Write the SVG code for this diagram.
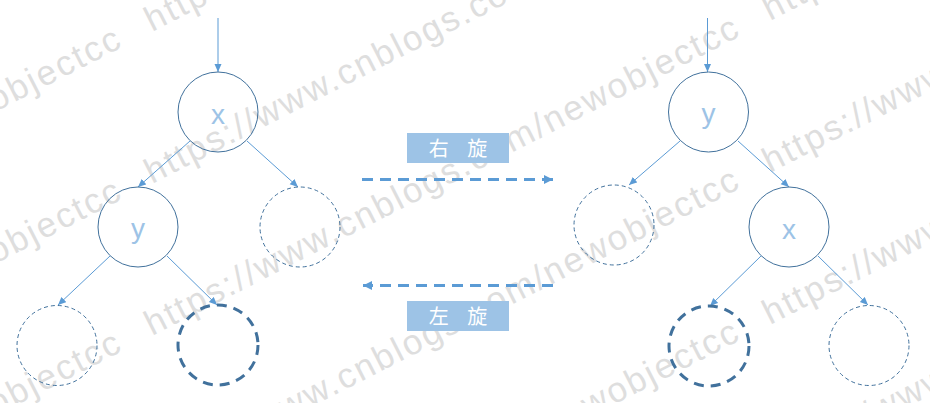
<svg xmlns="http://www.w3.org/2000/svg" width="930" height="403" viewBox="0 0 930 403">
<style>
.wm{font-family:"Liberation Sans",Arial,sans-serif;font-size:35px;fill:#dedede}
.n{fill:none;stroke:#41719C;stroke-width:1}
.d{fill:none;stroke:#41719C;stroke-width:1;stroke-dasharray:4 3}
.t{fill:none;stroke:#41719C;stroke-width:3;stroke-dasharray:10 7}
.lbl{font-family:"Liberation Sans",Arial,sans-serif;font-size:28px;fill:#9DC3E6;text-anchor:middle}
.e{stroke:#5B9BD5;stroke-width:1;fill:none;marker-end:url(#ah)}
.r{stroke:#5B9BD5;stroke-width:3;fill:none;stroke-dasharray:11 7;marker-end:url(#ah2)}
.box{fill:#9DC3E6}
.bt{font-family:"Noto Sans CJK SC","Noto Sans",sans-serif;font-size:20px;fill:#ffffff;text-anchor:middle;word-spacing:14px}
</style>
<defs>
<marker id="ah" markerUnits="userSpaceOnUse" markerWidth="9" markerHeight="8" refX="8" refY="3.5" orient="auto">
<path d="M0,0 L8,3.5 L0,7 z" fill="#5B9BD5"/>
</marker>
<marker id="ah2" markerUnits="userSpaceOnUse" markerWidth="10" markerHeight="10" refX="9" refY="4.5" orient="auto">
<path d="M0,0 L9,4.5 L0,9 z" fill="#5B9BD5"/>
</marker>
</defs>
<rect width="930" height="403" fill="#ffffff"/>
<g id="watermark" class="wm">
<text transform="translate(-466,347) rotate(-27)" textLength="661">https://www.cnblogs.com/newobjectcc</text>
<text transform="translate(152,32) rotate(-27)" textLength="661">https://www.cnblogs.com/newobjectcc</text>
<text transform="translate(-466,499) rotate(-27)" textLength="661">https://www.cnblogs.com/newobjectcc</text>
<text transform="translate(152,184) rotate(-27)" textLength="661">https://www.cnblogs.com/newobjectcc</text>
<text transform="translate(-466,651) rotate(-27)" textLength="661">https://www.cnblogs.com/newobjectcc</text>
<text transform="translate(152,336) rotate(-27)" textLength="661">https://www.cnblogs.com/newobjectcc</text>
<text transform="translate(770,21) rotate(-27)" textLength="661">https://www.cnblogs.com/newobjectcc</text>
<text transform="translate(152,488) rotate(-27)" textLength="661">https://www.cnblogs.com/newobjectcc</text>
<text transform="translate(770,173) rotate(-27)" textLength="661">https://www.cnblogs.com/newobjectcc</text>
<text transform="translate(152,640) rotate(-27)" textLength="661">https://www.cnblogs.com/newobjectcc</text>
<text transform="translate(770,325) rotate(-27)" textLength="661">https://www.cnblogs.com/newobjectcc</text>
<text transform="translate(770,477) rotate(-27)" textLength="661">https://www.cnblogs.com/newobjectcc</text>
</g>
<g id="connectors">
<line class="e" x1="218" y1="18" x2="218" y2="72"/>
<line class="e" x1="190" y1="141" x2="138" y2="187"/>
<line class="e" x1="247" y1="141" x2="298" y2="187"/>
<line class="e" x1="110" y1="256" x2="58" y2="305"/>
<line class="e" x1="167" y1="256" x2="217" y2="305"/>
<line class="e" x1="707.5" y1="18" x2="707.5" y2="72"/>
<line class="e" x1="680" y1="141" x2="629" y2="185"/>
<line class="e" x1="738" y1="141" x2="789" y2="187"/>
<line class="e" x1="761" y1="256" x2="710" y2="306"/>
<line class="e" x1="818" y1="256" x2="868" y2="305"/>
<line class="r" x1="362" y1="179.5" x2="553" y2="179.5"/>
<line class="r" x1="553" y1="285.5" x2="363" y2="285.5"/>
</g>
<g id="L-x"><circle class="n" cx="218" cy="112" r="40"/><text class="lbl" x="218" y="124">x</text></g>
<g id="L-y"><circle class="n" cx="138" cy="227" r="40"/><text class="lbl" x="138" y="238">y</text></g>
<g id="L-xr"><circle class="d" cx="300" cy="227" r="40"/></g>
<g id="L-yl"><circle class="d" cx="57" cy="345.5" r="40"/></g>
<g id="L-yr"><circle class="t" cx="218" cy="345" r="40"/></g>
<g id="R-y"><circle class="n" cx="708.5" cy="112" r="40"/><text class="lbl" x="708.5" y="123">y</text></g>
<g id="R-yl"><circle class="d" cx="614" cy="225" r="40"/></g>
<g id="R-x"><circle class="n" cx="789" cy="227" r="40"/><text class="lbl" x="789" y="239">x</text></g>
<g id="R-xl"><circle class="t" cx="709" cy="346" r="40"/></g>
<g id="R-xr"><circle class="d" cx="869" cy="345.5" r="40"/></g>
<g id="label-right"><rect class="box" x="407" y="133" width="102" height="30"/><text class="bt" x="458" y="156">右 旋</text></g>
<g id="label-left"><rect class="box" x="407" y="301" width="102" height="30"/><text class="bt" x="458" y="324">左 旋</text></g>
</svg>
